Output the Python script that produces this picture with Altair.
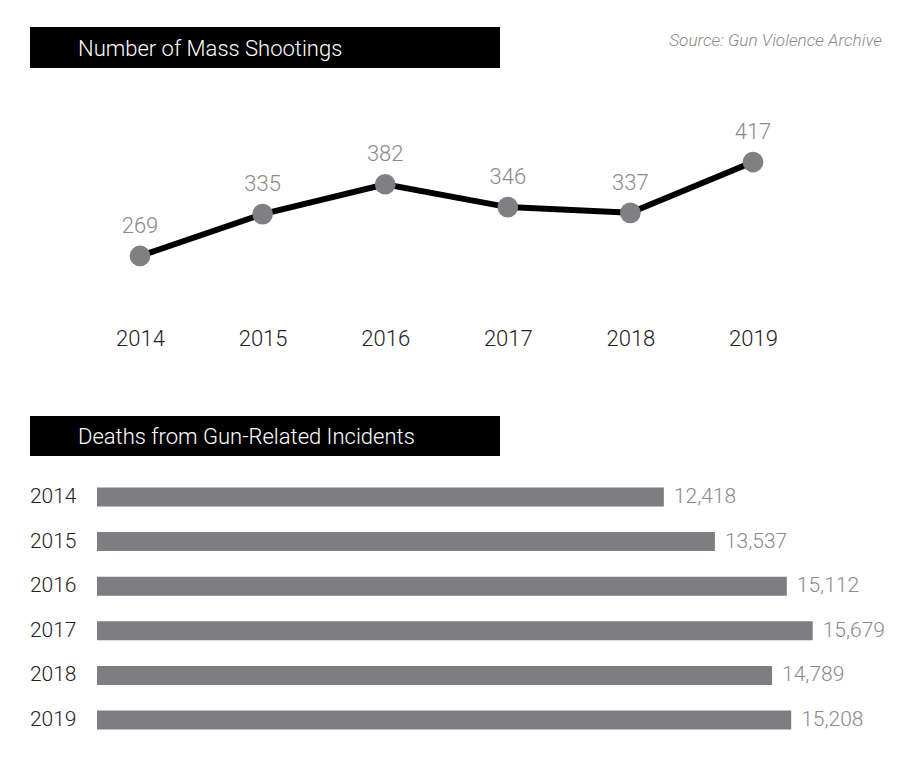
import altair as alt
import pandas as pd

years = ["2014", "2015", "2016", "2017", "2018", "2019"]
mass_shootings = [269, 335, 382, 346, 337, 417]
deaths = [12418, 13537, 15112, 15679, 14789, 15208]
title_top = "Number of Mass Shootings"
title_bottom = "Deaths from Gun-Related Incidents"
source_text = "Source: Gun Violence Archive"

FONT = "Roboto"
W = 780

line_df = pd.DataFrame({"year": years, "count": mass_shootings})
bar_df = pd.DataFrame({"year": years, "deaths": deaths})


def header(text, height, top, source=None):
    base = alt.Chart(pd.DataFrame({"label": [text]}))
    rect = base.mark_rect(color="black").encode(
        x=alt.value(-67), x2=alt.value(403), y=alt.value(top), y2=alt.value(height)
    )
    txt = base.mark_text(
        align="left", baseline="middle", font=FONT, fontSize=22, fontWeight=300, color="white"
    ).encode(x=alt.value(-19), y=alt.value((top + height) / 2 + 1), text="label:N")
    layers = [rect, txt]
    if source:
        src = alt.Chart(pd.DataFrame({"label": [source]})).mark_text(
            align="right", baseline="middle", font=FONT, fontSize=17.2, fontStyle="italic",
            fontWeight=300, color="#8a8a8a"
        ).encode(x=alt.value(785), y=alt.value(14), text="label:N")
        layers.append(src)
    return alt.layer(*layers).properties(width=W, height=height)


h1 = header(title_top, 41, 0, source_text)
h2 = header(title_bottom, 151, 111)

lbase = alt.Chart(line_df).encode(
    x=alt.X(
        "year:O", sort=years,
        scale=alt.Scale(type="point", range=[43, 656], padding=0),
        axis=alt.Axis(title=None, labelAngle=0, domain=False, ticks=False, tickSize=0,
                      labelPadding=23, labelFont=FONT, labelFontSize=22, labelFontWeight=300,
                      labelColor="#222222", grid=False),
    ),
    y=alt.Y("count:Q", scale=alt.Scale(domain=[191.8, 565.1], zero=False, nice=False), axis=None),
)
line = lbase.mark_line(color="black", strokeWidth=6)
pts = lbase.mark_circle(size=430, color="#808084", opacity=1)
plabels = lbase.mark_text(
    dy=-30, baseline="middle", font=FONT, fontSize=22, fontWeight=300, color="#8a8a8a"
).encode(text="count:Q")
line_chart = alt.layer(line, pts, plabels).properties(width=W, height=237)

bbase = alt.Chart(bar_df).encode(
    y=alt.Y(
        "year:O", sort=years,
        scale=alt.Scale(paddingInner=0.574, paddingOuter=0.706),
        axis=alt.Axis(title=None, domain=False, ticks=False, tickSize=0, labelPadding=21,
                      labelFont=FONT, labelFontSize=21, labelFontWeight=300,
                      labelColor="#222222", grid=False),
    ),
    x=alt.X("deaths:Q", scale=alt.Scale(domain=[0, 17000], nice=False), axis=None),
)
bars = bbase.mark_bar(color="#7e7e82")
vals = bbase.mark_text(
    align="left", baseline="middle", dx=10, font=FONT, fontSize=21, fontWeight=300, color="#8a8a8a"
).encode(text=alt.Text("deaths:Q", format=","))
bar_chart = alt.layer(bars, vals).properties(width=776, height=305)

chart = alt.vconcat(h1, line_chart, h2, bar_chart, spacing=0, bounds="flush").properties(
    padding={"left": 21, "top": 19, "right": 5, "bottom": 5}
).configure_view(strokeWidth=0)

chart.save("out.html", embed_options={"renderer": "svg", "actions": False})
